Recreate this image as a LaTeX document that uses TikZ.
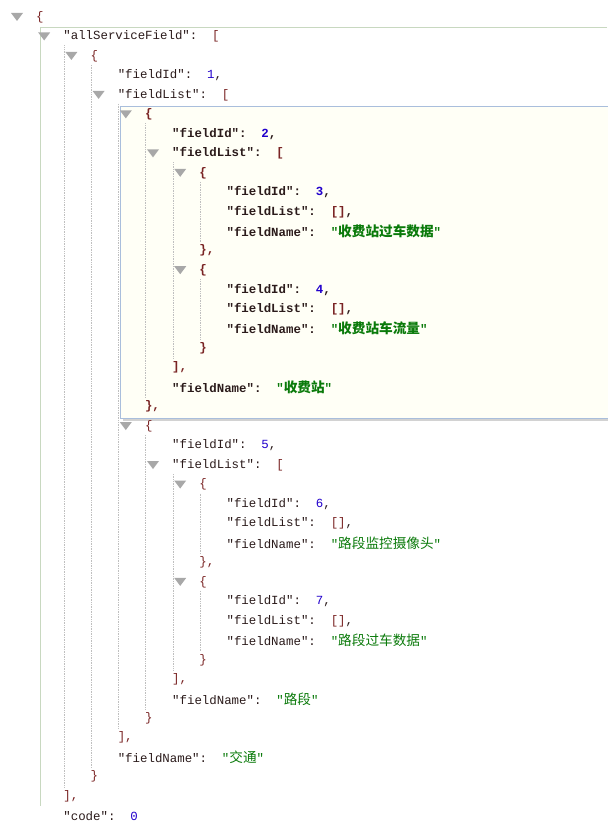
\documentclass[tikz,border=0pt]{standalone}
\usepackage{fontspec}
\setmonofont{Liberation Mono}
\newfontfamily\cjk[Scale=1.1]{Noto Sans CJK SC}
\definecolor{keyc}{HTML}{2B1B1B}
\definecolor{numc}{HTML}{2200CC}
\definecolor{strc}{HTML}{0A7A0A}
\definecolor{brc}{HTML}{7A2424}
\definecolor{triC}{HTML}{A8A8A8}
\definecolor{boxb}{HTML}{A9BEDC}
\definecolor{boxf}{HTML}{FFFFF6}
\definecolor{guide}{HTML}{C8D8C0}
\newcommand\K[1]{{\color{keyc}"#1":}\ \ }
\newcommand\Nn[1]{{\color{numc}#1}}
\newcommand\Ss[1]{{\color{strc}"{\cjk #1}"}}
\newcommand\Bb[1]{{\color{brc}#1}}
\tikzset{rowtxt/.style={anchor=west,inner sep=0pt,font=\ttfamily\fontsize{12.4}{13}\selectfont,text=keyc},
tri/.style={fill=triC,draw=none},
gline/.style={draw=gray!50,densely dotted,line width=0.7pt}}
\begin{document}
\begin{tikzpicture}[x=1pt,y=-1pt]
\useasboundingbox (0,0) rectangle (607,826);
\fill[white] (0,0) rectangle (607,826);
\def\ly#1{17+(#1-1)*19.48}
\def\lx#1{36+#1*27.2}
% outer green frame
\draw[guide,line width=0.8pt] (607,27) -- (40,27) -- (40,806);
% highlight box
\fill[gray!35] (123,109) rectangle (610,421);
\filldraw[fill=boxf,draw=boxb,line width=0.8pt] (120,106) rectangle (612,418);
% guides
\foreach \a/\b/\l in {2/41/1,3/40/2,5/38/3,6/21/4,8/19/5,9/13/6,14/18/6,22/37/4,24/35/5,25/29/6,30/34/6}{
  \draw[gline] ({\lx{\l}+1},{\ly{\a}+9}) -- ({\lx{\l}+1},{\ly{\b}-9});
}
% triangles
\foreach \i/\l in {1/0,2/1,3/2,5/3,6/4,8/5,9/6,14/6,22/4,24/5,25/6,30/6}{
  \fill[tri] ({\lx{\l}-25},{\ly{\i}-4}) -- ({\lx{\l}-13},{\ly{\i}-4}) -- ({\lx{\l}-19},{\ly{\i}+4}) -- cycle;
}
\newcommand\rw[4]{\node[rowtxt] (r#1) at ({\lx{#2}},{\ly{#1}}) {#4#3};}
\rw{1}{0}{\Bb{\{}}{}
\rw{2}{1}{\K{allServiceField}\Bb{[}}{}
\rw{3}{2}{\Bb{\{}}{}
\rw{4}{3}{\K{fieldId}\Nn{1},}{}
\rw{5}{3}{\K{fieldList}\Bb{[}}{}
\rw{6}{4}{\Bb{\{}}{\bfseries}
\rw{7}{5}{\K{fieldId}\Nn{2},}{\bfseries}
\rw{8}{5}{\K{fieldList}\Bb{[}}{\bfseries}
\rw{9}{6}{\Bb{\{}}{\bfseries}
\rw{10}{7}{\K{fieldId}\Nn{3},}{\bfseries}
\rw{11}{7}{\K{fieldList}\Bb{[]},}{\bfseries}
\rw{12}{7}{\K{fieldName}\Ss{收费站过车数据}}{\bfseries}
\rw{13}{6}{\Bb{\},}}{\bfseries}
\rw{14}{6}{\Bb{\{}}{\bfseries}
\rw{15}{7}{\K{fieldId}\Nn{4},}{\bfseries}
\rw{16}{7}{\K{fieldList}\Bb{[]},}{\bfseries}
\rw{17}{7}{\K{fieldName}\Ss{收费站车流量}}{\bfseries}
\rw{18}{6}{\Bb{\}}}{\bfseries}
\rw{19}{5}{\Bb{],}}{\bfseries}
\rw{20}{5}{\K{fieldName}\Ss{收费站}}{\bfseries}
\rw{21}{4}{\Bb{\},}}{\bfseries}
\rw{22}{4}{\Bb{\{}}{}
\rw{23}{5}{\K{fieldId}\Nn{5},}{}
\rw{24}{5}{\K{fieldList}\Bb{[}}{}
\rw{25}{6}{\Bb{\{}}{}
\rw{26}{7}{\K{fieldId}\Nn{6},}{}
\rw{27}{7}{\K{fieldList}\Bb{[]},}{}
\rw{28}{7}{\K{fieldName}\Ss{路段监控摄像头}}{}
\rw{29}{6}{\Bb{\},}}{}
\rw{30}{6}{\Bb{\{}}{}
\rw{31}{7}{\K{fieldId}\Nn{7},}{}
\rw{32}{7}{\K{fieldList}\Bb{[]},}{}
\rw{33}{7}{\K{fieldName}\Ss{路段过车数据}}{}
\rw{34}{6}{\Bb{\}}}{}
\rw{35}{5}{\Bb{],}}{}
\rw{36}{5}{\K{fieldName}\Ss{路段}}{}
\rw{37}{4}{\Bb{\}}}{}
\rw{38}{3}{\Bb{],}}{}
\rw{39}{3}{\K{fieldName}\Ss{交通}}{}
\rw{40}{2}{\Bb{\}}}{}
\rw{41}{1}{\Bb{],}}{}
\rw{42}{1}{\K{code}\Nn{0}}{}
\end{tikzpicture}
\end{document}
